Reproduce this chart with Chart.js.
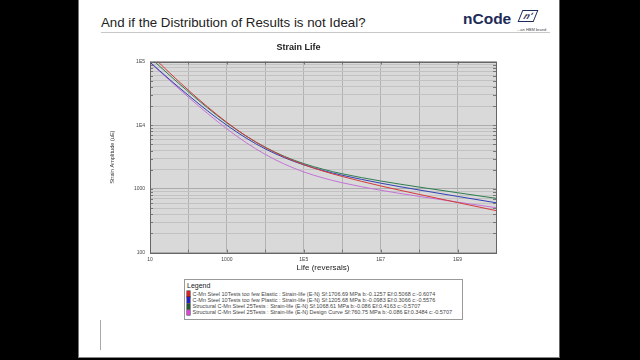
<!DOCTYPE html>
<html>
<head>
<meta charset="utf-8">
<script src="https://cdn.jsdelivr.net/npm/chart.js@4.4.0/dist/chart.umd.min.js"></script>
<style>
  html, body { margin: 0; padding: 0; width: 640px; height: 360px; background: #000; overflow: hidden;
    font-family: "Liberation Sans", Arial, sans-serif; }
  .abs { position: absolute; }
  #slide { left: 78px; top: 0; width: 482px; height: 358px; background: #fff;
    border-left: 1px solid #777; border-right: 1px solid #666; border-bottom: 1px solid #888; box-sizing: border-box; }
  #heading { left: 101px; top: 16.4px; font-size: 13.3px; line-height: 1; color: #222; white-space: nowrap; }
  #rule { left: 101px; top: 32px; width: 449px; height: 1px; background: #c8c8c8; }
  #brand { left: 463px; top: 10.5px; font-size: 15.5px; line-height: 1; font-weight: bold; color: #1d2b58; }
  #brandBox { left: 520px; top: 10px; width: 14px; height: 10px; border: 1.4px solid #1d2b58;
    transform: skewX(-22deg); font: italic bold 9px "Liberation Sans", Arial, sans-serif; color: #1d2b58;
    text-align: center; line-height: 10px; }
  #brandSub { left: 517px; top: 27px; font-size: 4px; color: #444; white-space: nowrap; }
  #mark { left: 100px; top: 320px; width: 1px; height: 30px; background: #aaa; }
  #plot { left: 100px; top: 40px; width: 400px; height: 236px; }
  #legend { left: 184px; top: 279px; width: 279px; height: 41px; border: 1px solid #999; box-sizing: border-box; }
  #legend .ttl { position: absolute; left: 2px; top: 1.5px; font-size: 7px; line-height: 8px; color: #222; }
  #legend .row { position: absolute; left: 1.5px; font-size: 5.5px; line-height: 6.2px; height: 6.2px; color: #444; white-space: nowrap; }
  #legend .sw { display: inline-block; width: 3.5px; height: 5.4px; margin-right: 2.5px; vertical-align: -1px;
    box-shadow: 0 0 0 0.5px #222; }
</style>
</head>
<body>
<div id="slide" class="abs"></div>
<div id="heading" class="abs">And if the Distribution of Results is not Ideal?</div>
<div id="rule" class="abs"></div>
<div id="brand" class="abs">nCode</div>
<div id="brandBox" class="abs">n'</div>
<div id="brandSub" class="abs">...an HBM brand</div>
<div id="mark" class="abs"></div>
<div id="plot" class="abs"><canvas id="strainChart" width="400" height="236"></canvas></div>
<div id="legend" class="abs"><div class="ttl">Legend</div></div>

<script>
// values (life in reversals, strain in uE)
const lifeReversals = [10, 31.6, 100, 316, 1000, 3160, 1e4, 31600, 1e5, 316000, 1e6, 1e7, 1e8, 1e9, 1e10];
const redStrain     = [131000, 67500, 35500, 19400, 11100, 6790, 4480, 3180, 2410, 1910, 1570, 1115, 821, 611, 457];
const blueStrain    = [98000, 53000, 29500, 16800, 10000, 6300, 4250, 3090, 2390, 1945, 1640, 1232, 963, 763, 607];
const greenStrain   = [116000, 61800, 33500, 18700, 10900, 6770, 4510, 3240, 2500, 2040, 1730, 1333, 1070, 872, 713];
const magentaStrain = [96600, 51300, 27600, 15300, 8790, 5340, 3480, 2450, 1850, 1490, 1250, 954, 763, 621, 508];

const seriesLabels = [
  "C-Mn Steel 10Tests too few Elastic : Strain-life (E-N) Sf:1706.69 MPa  b:-0.1257 Ef:0.5068 c:-0.6074",
  "C-Mn Steel 10Tests too few Plastic : Strain-life (E-N) Sf:1205.68 MPa  b:-0.0983 Ef:0.3066 c:-0.5576",
  "Structural C-Mn Steel 25Tests : Strain-life (E-N) Sf:1068.61 MPa  b:-0.086 Ef:0.4163 c:-0.5707",
  "Structural C-Mn Steel 25Tests : Strain-life (E-N) Design Curve Sf:760.75 MPa  b:-0.086 Ef:0.3484 c:-0.5707"
];

const xLabelValues = [10, 1000, 1e5, 1e7, 1e9];
const xTickLabels  = ['10', '1000', '1E5', '1E7', '1E9'];
const yLabelValues = [100, 1000, 1e4, 1e5];
const yTickLabels  = ['100', '1000', '1E4', '1E5'];

const seriesStrain = [redStrain, blueStrain, greenStrain, magentaStrain];
const lineColors   = ['#d33a3a', '#3340b4', '#2f7d50', '#c472d6'];
const swatchColors = ['#e02020', '#2020d0', '#1d5a30', '#e040e0'];

// grid positions: every decade on x, 1..9 per decade on y
const xGridValues = [];
for (let e = 1; e <= 10; e++) xGridValues.push(Math.pow(10, e));
const yGridValues = [];
for (let e = 2; e <= 4; e++) for (let m = 1; m <= 9; m++) yGridValues.push(m * Math.pow(10, e));
yGridValues.push(1e5);

const near = (a, b) => Math.abs(a - b) / b < 1e-6;
const isDecade = v => Math.abs(Math.log10(v) - Math.round(Math.log10(v))) < 1e-9;
const labelFor = (vals, labels) => v => {
  const k = vals.findIndex(t => near(v, t));
  return k >= 0 ? labels[k] : '';
};

// gray plot area, frame and little edge ticks
const plotFrame = {
  id: 'plotFrame',
  beforeDraw(chart) {
    const { ctx, chartArea: a } = chart;
    ctx.save();
    ctx.fillStyle = '#d9d9d9';
    ctx.fillRect(a.left, a.top, a.right - a.left, a.bottom - a.top);
    ctx.restore();
  },
  afterDatasetsDraw(chart) {
    const { ctx, chartArea: a, scales } = chart;
    ctx.save();
    ctx.strokeStyle = '#777';
    ctx.lineWidth = 1;
    ctx.beginPath();
    yGridValues.forEach(v => {
      const y = Math.round(scales.y.getPixelForValue(v)) + 0.5;
      ctx.moveTo(a.left, y); ctx.lineTo(a.left + 3, y);
      ctx.moveTo(a.right, y); ctx.lineTo(a.right - 3, y);
    });
    xGridValues.forEach(v => {
      const x = Math.round(scales.x.getPixelForValue(v)) + 0.5;
      ctx.moveTo(x, a.top); ctx.lineTo(x, a.top + 3);
      ctx.moveTo(x, a.bottom); ctx.lineTo(x, a.bottom - 3);
    });
    ctx.stroke();
    ctx.strokeStyle = '#666';
    ctx.strokeRect(Math.round(a.left) + 0.5, Math.round(a.top) + 0.5,
      Math.round(a.right - a.left), Math.round(a.bottom - a.top));
    ctx.restore();
  }
};

Chart.defaults.font.family = '"Liberation Sans", Arial, sans-serif';

const chart = new Chart(document.getElementById('strainChart').getContext('2d'), {
  type: 'line',
  data: {
    datasets: seriesLabels.map((label, i) => ({
      label: label,
      data: lifeReversals.map((x, j) => ({ x: x, y: seriesStrain[i][j] })),
      borderColor: lineColors[i],
      borderWidth: 1,
      pointRadius: 0,
      fill: false,
      cubicInterpolationMode: 'monotone'
    }))
  },
  options: {
    responsive: false,
    animation: false,
    layout: { padding: { left: 0, right: 3, top: 0, bottom: 0 } },
    plugins: {
      legend: { display: false },
      tooltip: { enabled: false },
      title: {
        display: true,
        text: 'Strain Life',
        color: '#222',
        font: { size: 9, weight: 'bold' },
        padding: { top: 2.1, bottom: 8.7 }
      }
    },
    scales: {
      x: {
        type: 'logarithmic',
        min: 10,
        max: 1e10,
        afterFit: s => { s.height = 23.4; },
        afterBuildTicks: s => { s.ticks = xGridValues.map(v => ({ value: v })); },
        grid: { color: '#b2b2b2', lineWidth: 1, drawTicks: false },
        border: { display: false },
        ticks: {
          autoSkip: false, maxRotation: 0, padding: 4,
          font: { size: 5 }, color: '#444',
          callback: labelFor(xLabelValues, xTickLabels)
        },
        title: {
          display: true, text: 'Life (reversals)', color: '#222',
          font: { size: 8 }, padding: { top: 0, bottom: 3.2 }
        }
      },
      y: {
        type: 'logarithmic',
        min: 100,
        max: 1e5,
        afterFit: s => { s.width = 50; },
        afterBuildTicks: s => { s.ticks = yGridValues.map(v => ({ value: v })); },
        grid: {
          color: c => (c.tick && isDecade(c.tick.value)) ? '#acacac' : '#c2c2c2',
          lineWidth: 1, drawTicks: false
        },
        border: { display: false },
        ticks: {
          autoSkip: false, padding: 5,
          font: { size: 5 }, color: '#444',
          callback: labelFor(yLabelValues, yTickLabels)
        },
        title: {
          display: true, text: 'Strain Amplitude (uE)', color: '#333',
          font: { size: 5.6 }, padding: { top: 8.6, bottom: 0 }
        }
      }
    }
  },
  plugins: [plotFrame]
});

// boxed legend below the plot, built from the chart's datasets
const legendBox = document.getElementById('legend');
chart.data.datasets.forEach((ds, i) => {
  const row = document.createElement('div');
  row.className = 'row';
  row.style.top = (10.5 + i * 6.2) + 'px';
  const sw = document.createElement('span');
  sw.className = 'sw';
  sw.style.background = swatchColors[i];
  row.appendChild(sw);
  row.appendChild(document.createTextNode(ds.label));
  legendBox.appendChild(row);
});
</script>
</body>
</html>
